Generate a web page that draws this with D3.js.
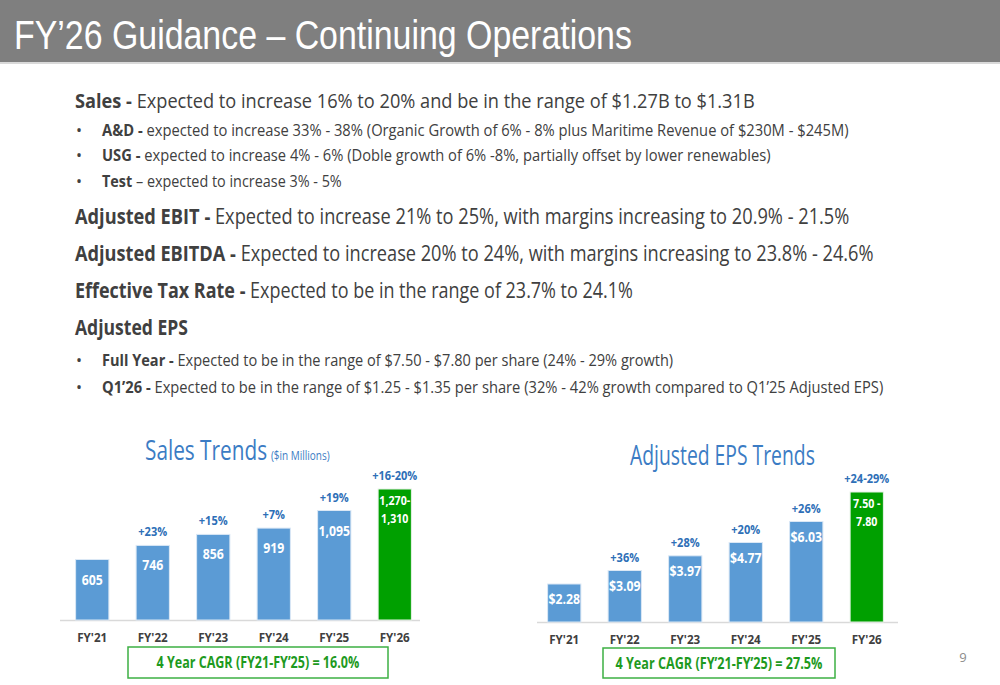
<!DOCTYPE html>
<html>
<head>
<meta charset="utf-8">
<script src="https://cdn.jsdelivr.net/npm/d3@7"></script>
<style>
  body { margin: 0; background: #fff; }
  svg { display: block; font-family: "Open Sans", sans-serif; }
</style>
</head>
<body>
<svg id="slide" width="1000" height="685"></svg>
<script>
// ---- data ----
const categories = ["FY'21", "FY'22", "FY'23", "FY'24", "FY'25", "FY'26"];

const salesValues = [605, 746, 856, 919, 1095, 1310];
const salesLabels = [["605"], ["746"], ["856"], ["919"], ["1,095"], ["1,270-", "1,310"]];
const salesGrowth = ["", "+23%", "+15%", "+7%", "+19%", "+16-20%"];

const epsValues = [2.28, 3.09, 3.97, 4.77, 6.03, 7.80];
const epsLabels = [["$2.28"], ["$3.09"], ["$3.97"], ["$4.77"], ["$6.03"], ["7.50 -", "7.80"]];
const epsGrowth = ["", "+36%", "+28%", "+20%", "+26%", "+24-29%"];

const guidanceLines = [
  { bold: "Sales - ", text: "Expected to increase 16% to 20% and be in the range of $1.27B to $1.31B", bullet: false, y: 108, w: 680, size: 20 },
  { bold: "A&D - ", text: "expected to increase 33% - 38% (Organic Growth of 6% - 8% plus Maritime Revenue of $230M - $245M)", bullet: true, y: 136, w: 747, size: 16 },
  { bold: "USG - ", text: "expected to increase 4% - 6% (Doble growth of 6% -8%, partially offset by lower renewables)", bullet: true, y: 161, w: 669, size: 16 },
  { bold: "Test", text: " – expected to increase 3% - 5%", bullet: true, y: 187, w: 240, size: 16 },
  { bold: "Adjusted EBIT - ", text: "Expected to increase 21% to 25%, with margins increasing to 20.9% - 21.5%", bullet: false, y: 224, w: 775, size: 22 },
  { bold: "Adjusted EBITDA - ", text: "Expected to increase 20% to 24%, with margins increasing to 23.8% - 24.6%", bullet: false, y: 261, w: 799, size: 22 },
  { bold: "Effective Tax Rate - ", text: "Expected to be in the range of 23.7% to 24.1%", bullet: false, y: 298, w: 558, size: 22 },
  { bold: "Adjusted EPS", text: "", bullet: false, y: 335, w: 113, size: 22 },
  { bold: "Full Year - ", text: "Expected to be in the range of $7.50 - $7.80 per share (24% - 29% growth)", bullet: true, y: 366, w: 572, size: 16 },
  { bold: "Q1’26 - ", text: "Expected to be in the range of $1.25 - $1.35 per share (32% - 42% growth compared to Q1’25 Adjusted EPS)", bullet: true, y: 393, w: 782, size: 16 }
];

const BLUE = "#5b9bd5";
const GREEN = "#00a000";
const LABEL_BLUE = "#2e6fb7";
const TEXT = "#404040";

const svg = d3.select("#slide");

// squeeze a text element horizontally so it spans the width seen on the slide
function fitWidth(sel, x, y, targetW) {
  const w = sel.node().getBBox().width;
  const k = w > 0 ? targetW / w : 1;
  sel.attr("x", 0).attr("y", 0)
     .attr("transform", `translate(${x},${y}) scale(${k},1)`);
}

// ---- header ----
svg.append("rect").attr("x", 0).attr("y", 0).attr("width", 1000).attr("height", 62).attr("fill", "#7f7f7f");
svg.append("rect").attr("x", 0).attr("y", 62).attr("width", 1000).attr("height", 2).attr("fill", "#d9d9d9");
const title = svg.append("text")
  .attr("fill", "#fff")
  .attr("font-size", 40)
  .attr("font-family", "'Liberation Sans', Arial, sans-serif")
  .text("FY’26 Guidance – Continuing Operations");
fitWidth(title, 14, 49, 618);

// ---- guidance text ----
guidanceLines.forEach(line => {
  const x = line.bullet ? 102 : 75;
  if (line.bullet) {
    svg.append("text").attr("x", 76).attr("y", line.y).attr("fill", TEXT)
      .attr("font-size", 16).text("•");
  }
  const t = svg.append("text").attr("fill", TEXT).attr("font-size", line.size);
  t.append("tspan").attr("font-weight", "bold").text(line.bold);
  if (line.text) t.append("tspan").text(line.text);
  fitWidth(t, x, line.y, line.w);
});

// ---- bar charts ----
function barChart(opts) {
  const g = svg.append("g");
  const x = d3.scaleBand().domain(categories).range([opts.x0, opts.x1]).paddingInner(0.45).paddingOuter(0.225);
  const y = d3.scaleLinear().domain([0, d3.max(opts.values)]).range([opts.base, opts.base - opts.maxH]);

  // title
  const tt = g.append("text").attr("fill", "#3b7cc4").attr("font-size", 27);
  tt.append("tspan").text(opts.title);
  if (opts.subtitle) tt.append("tspan").attr("font-size", 13).attr("dx", 5).text(opts.subtitle);
  fitWidth(tt, opts.titleX, opts.titleY, opts.titleW);

  // baseline
  g.append("line").attr("x1", opts.axisX0).attr("x2", opts.axisX1)
    .attr("y1", opts.base + 0.5).attr("y2", opts.base + 0.5)
    .attr("stroke", "#d9d9d9").attr("stroke-width", 1.5);

  const last = categories.length - 1;
  g.selectAll("rect.bar").data(opts.values).join("rect")
    .attr("class", "bar")
    .attr("x", (d, i) => x(categories[i]))
    .attr("y", d => y(d))
    .attr("width", x.bandwidth())
    .attr("height", d => y(0) - y(d))
    .attr("fill", (d, i) => i === last ? GREEN : BLUE)
    .attr("stroke", (d, i) => i === last ? "#e6f2e6" : "#dbe8f5")
    .attr("stroke-width", 1);

  // value labels inside bars
  opts.values.forEach((d, i) => {
    const lines = opts.labels[i];
    const cx = x(categories[i]) + x.bandwidth() / 2;
    lines.forEach((s, j) => {
      const two = lines.length > 1;
      const top = y(d) + (two ? 16 + j * 18 : opts.inset);
      g.append("text").attr("fill", "#fff").attr("font-weight", "bold")
        .attr("font-size", two ? 13 : 15)
        .attr("text-anchor", "middle").text(s)
        .attr("transform", `translate(${cx},${top}) scale(${two ? 0.82 : 0.82},1)`);
    });
  });

  // growth labels
  g.selectAll("text.growth").data(opts.growth).join("text")
    .attr("class", "growth")
    .attr("text-anchor", "middle")
    .attr("fill", LABEL_BLUE).attr("font-weight", "bold").attr("font-size", 13)
    .attr("transform", (d, i) => `translate(${x(categories[i]) + x.bandwidth() / 2},${y(opts.values[i]) - 9}) scale(0.85,1)`)
    .text(d => d);

  // x axis labels
  const ax = g.append("g").attr("transform", `translate(0,${opts.base})`)
    .call(d3.axisBottom(x).tickSize(0).tickPadding(13));
  ax.select(".domain").remove();
  ax.selectAll(".tick text").attr("fill", TEXT).attr("font-weight", "bold").attr("font-size", 13)
    .attr("font-family", "'Open Sans', sans-serif")
    .attr("textLength", 30).attr("lengthAdjust", "spacingAndGlyphs");

  // CAGR box
  g.append("rect").attr("x", opts.box[0]).attr("y", opts.box[1])
    .attr("width", opts.box[2]).attr("height", opts.box[3])
    .attr("fill", "#fff").attr("stroke", "#3cb043").attr("stroke-width", 1.5);
  const ct = g.append("text").attr("fill", "#1e9a1e").attr("font-weight", "bold").attr("font-size", 16)
    .text(opts.cagr);
  fitWidth(ct, opts.box[0] + opts.box[2] / 2 - opts.cagrW / 2, opts.box[1] + 21, opts.cagrW);
}

barChart({
  x0: 62, x1: 425, base: 620, maxH: 131, inset: 25,
  values: salesValues, labels: salesLabels, growth: salesGrowth,
  title: "Sales Trends", subtitle: "($in Millions)", titleX: 145, titleY: 460, titleW: 185,
  axisX0: 60, axisX1: 420,
  box: [128, 647, 260, 31], cagr: "4 Year CAGR (FY21-FY’25) = 16.0%", cagrW: 203
});

barChart({
  x0: 534, x1: 897, base: 622, maxH: 130, inset: 20,
  values: epsValues, labels: epsLabels, growth: epsGrowth,
  title: "Adjusted EPS Trends", subtitle: "", titleX: 630, titleY: 465, titleW: 185,
  axisX0: 537, axisX1: 898,
  box: [603, 648, 232, 30], cagr: "4 Year CAGR (FY’21-FY’25) = 27.5%", cagrW: 207
});

// page number
svg.append("text").attr("x", 963).attr("y", 662).attr("text-anchor", "middle")
  .attr("fill", "#8c8c8c").attr("font-size", 13).text("9");
</script>
</body>
</html>
